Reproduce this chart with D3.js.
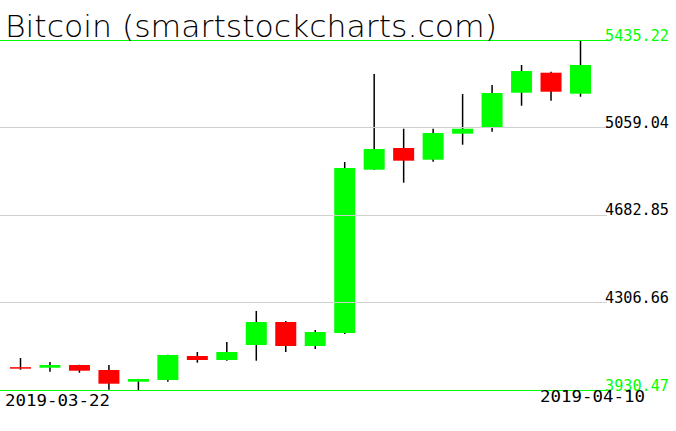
<!DOCTYPE html>
<html>
<head>
<meta charset="utf-8">
<script src="https://cdn.jsdelivr.net/npm/d3@7"></script>
<style>
  body { margin: 0; background: #fff; }
  svg { display: block; }
</style>
</head>
<body>
<div class="chartHolder"></div>
<script>
// daily candles
var dates = [
  "2019-03-22", "2019-03-23", "2019-03-24", "2019-03-25", "2019-03-26",
  "2019-03-27", "2019-03-28", "2019-03-29", "2019-03-30", "2019-03-31",
  "2019-04-01", "2019-04-02", "2019-04-03", "2019-04-04", "2019-04-05",
  "2019-04-06", "2019-04-07", "2019-04-08", "2019-04-09", "2019-04-10"
];
var open  = [4028.6, 4026.3, 4037.9, 4016.4, 3966.1, 3973.4, 4076.6, 4059.4, 4123.9, 4222.8,
             4119.6, 4175.5, 4877.6, 4970.9, 4920.6, 5032.4, 5058.2, 5208.6, 5294.6, 5204.3];
var high  = [4068.0, 4051.0, 4039.0, 4037.9, 3978.0, 4082.0, 4093.8, 4136.8, 4270.1, 4227.1,
             4188.4, 4910.7, 5289.0, 5053.8, 5053.8, 5203.0, 5241.7, 5327.7, 5298.9, 5435.22];
var low   = [4017.7, 4009.1, 4004.8, 3932.0, 3930.47, 3966.1, 4047.8, 4056.4, 4056.4, 4093.8,
             4106.7, 4171.2, 4876.3, 4821.7, 4912.0, 4985.1, 5041.0, 5152.7, 5174.2, 5191.4];
var close = [4027.6, 4037.9, 4013.4, 3957.5, 3977.7, 4080.9, 4059.4, 4093.8, 4222.8, 4119.6,
             4179.8, 4884.9, 4966.6, 4916.3, 5035.4, 5053.8, 5207.3, 5301.9, 5212.9, 5327.7];

var yTicks = [3930.47, 4306.66, 4682.85, 5059.04, 5435.22];
var dateLabels = ["2019-03-22", "2019-04-10"];
var title = "Bitcoin (smartstockcharts.com)";

var width = 676;
var height = 431;
var plotRight = 607;
var green = "#00ff00";
var red = "#ff0000";

var svg = d3
  .select(".chartHolder")
  .append("svg")
  .attr("width", width)
  .attr("height", height);

var xScale = d3.scalePoint().domain(dates).range([20.5, 580.5]);
var yScale = d3
  .scaleLinear()
  .domain([d3.min(yTicks), d3.max(yTicks)])
  .range([390, 40]);

var bodyWidth = 21;

// wicks first, bodies cover them
svg
  .append("g")
  .selectAll("line")
  .data(dates)
  .enter()
  .append("line")
  .attr("x1", (d) => xScale(d))
  .attr("x2", (d) => xScale(d))
  .attr("y1", (d, i) => yScale(high[i]))
  .attr("y2", (d, i) => yScale(low[i]))
  .attr("stroke", "#000")
  .attr("stroke-width", 1.5);

svg
  .append("g")
  .selectAll("rect")
  .data(dates)
  .enter()
  .append("rect")
  .attr("x", (d) => xScale(d) - bodyWidth / 2)
  .attr("y", (d, i) => yScale(Math.max(open[i], close[i])))
  .attr("width", bodyWidth)
  .attr("height", (d, i) =>
    Math.max(1.5, Math.abs(yScale(open[i]) - yScale(close[i])))
  )
  .attr("fill", (d, i) => (close[i] >= open[i] ? green : red));

// gridlines sit on top of the candles
svg
  .append("g")
  .selectAll("line")
  .data(yTicks)
  .enter()
  .append("line")
  .attr("x1", 0)
  .attr("x2", plotRight)
  .attr("y1", (d) => Math.round(yScale(d)) + 0.5)
  .attr("y2", (d) => Math.round(yScale(d)) + 0.5)
  .attr("stroke", (d, i) => (i == 0 || i == yTicks.length - 1 ? green : "#d0d0d0"))
  .attr("stroke-width", 1.2);

svg
  .append("g")
  .selectAll("text")
  .data(yTicks)
  .enter()
  .append("text")
  .attr("x", 605)
  .attr("y", (d) => yScale(d) + 0.5)
  .attr("font-family", "DejaVu Sans Mono")
  .attr("font-size", 15.5)
  .attr("textLength", 64)
  .attr("lengthAdjust", "spacingAndGlyphs")
  .attr("fill", (d, i) => (i == 0 || i == yTicks.length - 1 ? green : "#000"))
  .text((d) => d.toFixed(2));

// first and last date under the plot
svg
  .append("g")
  .selectAll("text")
  .data(dateLabels)
  .enter()
  .append("text")
  .attr("x", (d, i) => (i == 0 ? 5 : 540))
  .attr("y", (d, i) => (i == 0 ? 406 : 401.5))
  .attr("font-family", "DejaVu Sans Mono")
  .attr("font-size", 16.5)
  .attr("textLength", 105)
  .attr("lengthAdjust", "spacingAndGlyphs")
  .attr("fill", "#000")
  .text((d) => d);

svg
  .append("text")
  .attr("x", 5)
  .attr("y", 37)
  .attr("font-family", "DejaVu Sans")
  .attr("font-weight", 200)
  .attr("font-size", 30)
  .attr("textLength", 492)
  .attr("lengthAdjust", "spacingAndGlyphs")
  .attr("fill", "#000")
  .text(title);
</script>
</body>
</html>
